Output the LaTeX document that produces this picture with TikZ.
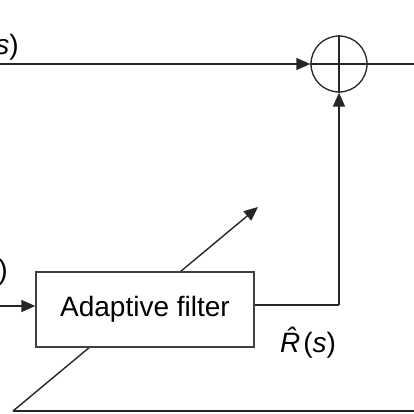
\documentclass[tikz,border=0pt]{standalone}
\usepackage{fontspec}
\setmainfont{Liberation Sans}
\usetikzlibrary{arrows.meta}
\begin{document}
\begin{tikzpicture}[x=1pt,y=-1pt,
  wire/.style={line width=1.4pt,draw=black!85},
  arr/.style={wire,-{Triangle[length=14pt,width=12pt]}},
  lbl/.style={font=\fontsize{28}{30}\selectfont,inner sep=0pt},
  filterbox/.style={draw=black!75,line width=1.3pt,fill=white,minimum width=218pt,minimum height=75pt,inner sep=0pt}]
\useasboundingbox (0,0) rectangle (414,414);
\coordinate (d0) at (13,411);
\coordinate (d1) at (258,207);
\coordinate (rin) at (0,306);
\coordinate (tin) at (0,64);
\coordinate (rout) at (414,64);
\coordinate (bend) at (414,411);
\coordinate (corner) at (339,305);
\node[circle,draw=black!85,line width=1.3pt,minimum size=56pt,inner sep=0pt] (sum) at (339,64) {};
\draw[arr] (d0) -- (d1);
\node[filterbox,lbl] (af) at (145,309.5) {Adaptive filter};
\draw[wire,line width=1.1pt] (sum.north) -- (sum.south);
\draw[wire,line width=1.1pt] (sum.west) -- (sum.east);
\draw[arr] (tin) -- (sum.west);
\draw[wire] (sum.east) -- (rout);
\draw[arr] (rin) -- (rin -| af.west);
\draw[wire] (af.east |- corner) -- (corner);
\draw[arr] (corner) -- (sum.south);
\draw[wire] (d0) -- (bend);
\node[lbl,anchor=east] (tlab) at (19,47) {\textit{s})};
\node[lbl,anchor=east] (llab) at (8,272) {)};
\node[lbl] (rlab) at (308,343) {\textit{\^R}\kern-1.5pt(\textit{s})};
\end{tikzpicture}
\end{document}
